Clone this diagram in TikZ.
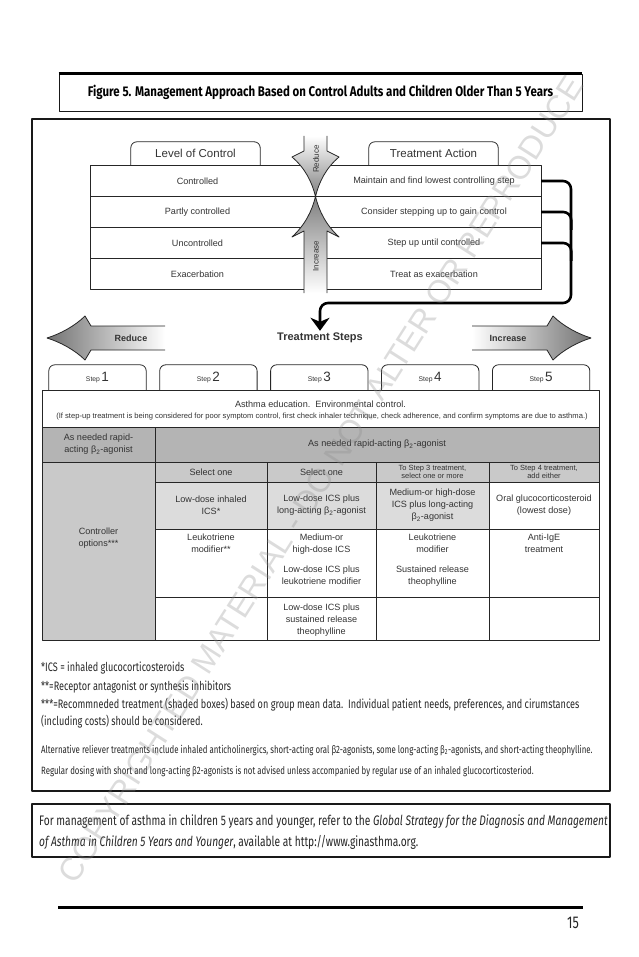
\documentclass[tikz,border=0pt]{standalone}
\usepackage{fontspec}
\setmainfont{Liberation Sans}
\newfontfamily\condfont[FakeStretch=0.74]{Fira Sans}
\newfontfamily\titlefont[FakeStretch=0.82]{Fira Sans}
\usepackage{xcolor}
\usepackage{tikz}
\usetikzlibrary{positioning, arrows.meta}

\definecolor{ink}{HTML}{333333}
\definecolor{needgray}{HTML}{B4B4B4}
\definecolor{headgray}{HTML}{C9C9C9}
\definecolor{recgray}{HTML}{DCDCDC}
\newcommand{\btwo}{β\textsubscript{2}}
\newcommand{\steplabel}[1]{{\fontsize{6.8}{8}\selectfont Step}\,{\fontsize{13.5}{14}\selectfont #1}}

\begin{document}
\begin{tikzpicture}[x=1pt, y=-1pt, line join=round,
    cell/.style={inner sep=0pt, align=center, text=ink, font=\fontsize{9.1}{12}\selectfont},
    small/.style={cell, font=\fontsize{7.5}{8.5}\selectfont},
    rowcell/.style={cell, minimum height=31pt},
    tab/.style={cell, font=\fontsize{11.5}{13}\selectfont, minimum width=129pt, minimum height=23pt},
    steptab/.style={cell, minimum width=97pt, minimum height=25pt},
    thinline/.style={draw=black!85, line width=0.8pt},
    frame/.style={draw=black!90, line width=1.4pt},
    bracket/.style={line width=2.6pt, rounded corners=8pt},
    flat/.style={cell, font=\bfseries\fontsize{9}{10}\selectfont},
    turned/.style={cell, rotate=90, font=\fontsize{8}{9}\selectfont},
    footnote/.style={anchor=west, inner sep=0pt, text=black!85, font=\condfont\fontsize{12.3}{14}\selectfont},
    tiny/.style={footnote, font=\condfont\fontsize{10.6}{12}\selectfont}]
    \useasboundingbox (0,0) rectangle (638,957);

    % title
    \node[draw=black!90, line width=0.9pt, minimum width=523pt, minimum height=37pt, inner sep=0pt,
          font=\titlefont\bfseries\fontsize{14}{16}\selectfont] (title) at (320.5,92.5)
          {Figure 5. Management Approach Based on Control Adults and Children Older Than 5 Years};
    \draw[line width=3pt] (title.north west) -- (title.north east);
    \draw[frame] (32,119) rectangle (610,791);

    % level of control / treatment action
    \node[tab] (loc) at (195.5,153.5) {Level of Control};
    \node[tab] (action) at (433.5,153.5) {Treatment Action};
    \draw[thinline, rounded corners=6pt] (loc.south west) |- (loc.north) -| (loc.south east);
    \draw[thinline, rounded corners=6pt] (action.south west) |- (action.north) -| (action.south east);
    \foreach \lvl/\act [count=\i] in {Controlled/Maintain and find lowest controlling step,
        Partly controlled/Consider stepping up to gain control,
        Uncontrolled/Step up until controlled, Exacerbation/Treat as exacerbation} {
        \node[rowcell, minimum width=213pt] (lev\i) at (197.5,150+31*\i) {\lvl};
        \node[rowcell, minimum width=214pt] (act\i) at (434,150+31*\i) {\act};
    }
    \draw[thinline] (lev1.north east) -- (lev1.north west) -- (lev4.south west) -- (lev4.south east);
    \draw[thinline] (act1.north west) -- (act1.north east) -- (act4.south east) -- (act4.south west);
    \foreach \i in {1,2,3} \draw[thinline] (lev\i.south west) -- (act\i.south east);

    % reduce / increase between the columns
    \path[thinline, top color=white, bottom color=black!50] (304,136) -- (304,151) -- (292,157)
        .. controls (305,168) and (312,182) .. (315.5,196.5)
        .. controls (319,182) and (326,168) .. (339,157) -- (327,151) -- (327,136);
    \path[thinline, top color=black!50, bottom color=white] (304,293) -- (304,231) -- (292,237)
        .. controls (305,225) and (312,211) .. (315.5,196.5)
        .. controls (319,211) and (326,225) .. (339,237) -- (327,231) -- (327,293);
    \node[turned] (down) at (316,159) {Reduce};
    \node[turned] (up) at (316,256) {Increase};

    % back to the steps
    \node[cell, inner sep=2pt, font=\bfseries\fontsize{11}{12}\selectfont] (steps) at (320,338) {Treatment Steps};
    \coordinate (bend) at (571,303);
    \draw[bracket, -{Stealth[length=13pt, width=19pt, inset=4pt]}] (act1.east) -| (bend) -| (steps.north);
    \foreach \i in {2,3} \draw[bracket] (act\i.east) -| ++(30,18);

    % treatment steps arrows
    \path[thinline, left color=black!55, right color=white] (165,326) -- (91,326) -- (85,316)
        .. controls (75,326) and (60,334) .. (47,338)
        .. controls (60,342) and (75,350) .. (85,360) -- (91,350) -- (165,350);
    \path[thinline, left color=white, right color=black!55] (472,326) -- (547,326) -- (553,316)
        .. controls (563,326) and (578,334) .. (591,338)
        .. controls (578,342) and (563,350) .. (553,360) -- (547,350) -- (472,350);
    \node[flat] (reduce) at (131,338) {Reduce};
    \node[flat] (increase) at (508,338) {Increase};

    \foreach \i in {1,...,5} {
        \node[steptab] (step\i) at ({97.5+110.9*(\i-1)},377.5) {\steplabel{\i}};
        \draw[thinline, rounded corners=6pt] (step\i.south west) |- (step\i.north) -| (step\i.south east);
    }

    % steps table
    \fill[needgray] (42,427) rectangle (599,462);
    \fill[headgray] (42,462) rectangle (155,640);
    \fill[headgray] (155,462) rectangle (599,482);
    \fill[recgray] (155,482) rectangle (489,529);
    \draw[thinline, fill=white] (42,390) rectangle (599,427);
    \draw[thinline] (42,427) rectangle (599,640);
    \draw[thinline] (42,462) -- (599,462);
    \foreach \y in {482,529,597} \draw[thinline] (155,\y) -- (599,\y);
    \draw[thinline] (155,427) -- (155,640);
    \foreach \x in {267,376,489} \draw[thinline] (\x,462) -- (\x,640);

    \node[cell] (edu) at (320.5,404) {Asthma education.\ \ Environmental control.};
    \node[cell, font=\fontsize{7.6}{8.5}\selectfont] (check) at (322,416.5) {(If step-up treatment is being considered for poor symptom control, first check inhaler technique, check adherence, and confirm symptoms are due to asthma.)};
    \node[cell] (needl) at (98.5,444.5) {As needed rapid-\\acting \btwo-agonist};
    \node[cell] (needr) at (377,444.5) {As needed rapid-acting \btwo-agonist};
    \node[cell] (ctrl) at (98.5,538) {Controller\\options***};
    \node[cell] (sel1) at (211,472) {Select one};
    \node[cell] (sel2) at (321.5,472) {Select one};
    \node[small] (sel3) at (432.5,472) {To Step 3 treatment,\\select one or more};
    \node[small] (sel4) at (544,472) {To Step 4 treatment,\\add either};
    \node[cell] (rec1) at (211,505.5) {Low-dose inhaled\\ICS*};
    \node[cell] (rec2) at (321.5,505.5) {Low-dose ICS plus\\long-acting \btwo-agonist};
    \node[cell] (rec3) at (432.5,505.5) {Medium-or high-dose\\ICS plus long-acting\\\btwo-agonist};
    \node[cell] (rec4) at (544,505.5) {Oral glucocorticosteroid\\(lowest dose)};
    \node[cell, anchor=north] (opt1) at (211,534) {Leukotriene\\modifier**};
    \node[cell, anchor=north] (opt2) at (321.5,534) {Medium-or\\high-dose ICS\\[8pt]Low-dose ICS plus\\leukotriene modifier};
    \node[cell, anchor=north] (opt3) at (432.5,534) {Leukotriene\\modifier\\[8pt]Sustained release\\theophylline};
    \node[cell, anchor=north] (opt4) at (544,534) {Anti-IgE\\treatment};
    \node[cell] (opt5) at (321.5,620) {Low-dose ICS plus\\sustained release\\theophylline};

    % notes
    \node[footnote] (fn1) at (41,668) {*ICS = inhaled glucocorticosteroids};
    \node[footnote] (fn2) at (41,687) {**=Receptor antagonist or synthesis inhibitors};
    \node[footnote] (fn3) at (41,705) {***=Recommneded treatment (shaded boxes) based on group mean data.\ \ Individual patient needs, preferences, and cirumstances};
    \node[footnote] (fn4) at (41,722) {(including costs) should be considered.};
    \node[tiny] (alt1) at (41,750) {Alternative reliever treatments include inhaled anticholinergics, short-acting oral β2-agonists, some long-acting \btwo-agonists, and short-acting theophylline.};
    \node[tiny] (alt2) at (41,771) {Regular dosing with short and long-acting β2-agonists is not advised unless accompanied by regular use of an inhaled glucocorticosteriod.};

    \node[frame, minimum width=578pt, minimum height=53pt] (young) at (321,830.5) {};
    \node[footnote, font=\condfont\fontsize{13.8}{16}\selectfont] (ref1) at (39,822) {For management of asthma in children 5 years and younger, refer to the \textit{Global Strategy for the Diagnosis and Management}};
    \node[footnote, font=\condfont\fontsize{13.8}{16}\selectfont] (ref2) at (39,842) {\textit{of Asthma in Children 5 Years and Younger}, available at http://www.ginasthma.org.};

    \draw[line width=3pt] (58,907) -- (583,907);
    \node[cell, text=black!85, font=\condfont\fontsize{17}{18}\selectfont] (page) at (573,923) {15};

    \node[rotate=57.5, text=black!45, text opacity=0.3, font=\fontsize{32.5}{33}\selectfont] (mark) at (321,479) {COPYRIGHTED MATERIAL - DO NOT ALTER OR REPRODUCE};
\end{tikzpicture}
\end{document}
